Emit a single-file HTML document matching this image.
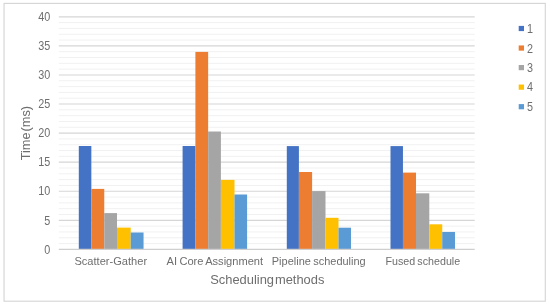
<!DOCTYPE html>
<html><head><meta charset="utf-8"><title>Chart</title>
<style>
html,body{margin:0;padding:0;background:#fff;}
body{width:550px;height:306px;overflow:hidden;}
svg{display:block;}
text{font-family:"Liberation Sans",sans-serif;fill:#6e6e6e;}
</style></head><body>
<svg width="550" height="306" viewBox="0 0 550 306">
<rect x="0" y="0" width="550" height="306" fill="#ffffff"/>
<rect x="4.05" y="3.4" width="541.25" height="297.8" fill="#ffffff" stroke="#D6D6D6" stroke-width="1.15"/>

<line x1="58.8" x2="474.7" y1="243.59" y2="243.59" stroke="#F1F1F1" stroke-width="1"/>
<line x1="58.8" x2="474.7" y1="237.77" y2="237.77" stroke="#F1F1F1" stroke-width="1"/>
<line x1="58.8" x2="474.7" y1="231.96" y2="231.96" stroke="#F1F1F1" stroke-width="1"/>
<line x1="58.8" x2="474.7" y1="226.14" y2="226.14" stroke="#F1F1F1" stroke-width="1"/>
<line x1="58.8" x2="474.7" y1="220.32" y2="220.32" stroke="#D6D6D6" stroke-width="1.15"/>
<line x1="58.8" x2="474.7" y1="214.51" y2="214.51" stroke="#F1F1F1" stroke-width="1"/>
<line x1="58.8" x2="474.7" y1="208.69" y2="208.69" stroke="#F1F1F1" stroke-width="1"/>
<line x1="58.8" x2="474.7" y1="202.88" y2="202.88" stroke="#F1F1F1" stroke-width="1"/>
<line x1="58.8" x2="474.7" y1="197.06" y2="197.06" stroke="#F1F1F1" stroke-width="1"/>
<line x1="58.8" x2="474.7" y1="191.25" y2="191.25" stroke="#D6D6D6" stroke-width="1.15"/>
<line x1="58.8" x2="474.7" y1="185.44" y2="185.44" stroke="#F1F1F1" stroke-width="1"/>
<line x1="58.8" x2="474.7" y1="179.62" y2="179.62" stroke="#F1F1F1" stroke-width="1"/>
<line x1="58.8" x2="474.7" y1="173.81" y2="173.81" stroke="#F1F1F1" stroke-width="1"/>
<line x1="58.8" x2="474.7" y1="167.99" y2="167.99" stroke="#F1F1F1" stroke-width="1"/>
<line x1="58.8" x2="474.7" y1="162.18" y2="162.18" stroke="#D6D6D6" stroke-width="1.15"/>
<line x1="58.8" x2="474.7" y1="156.36" y2="156.36" stroke="#F1F1F1" stroke-width="1"/>
<line x1="58.8" x2="474.7" y1="150.55" y2="150.55" stroke="#F1F1F1" stroke-width="1"/>
<line x1="58.8" x2="474.7" y1="144.73" y2="144.73" stroke="#F1F1F1" stroke-width="1"/>
<line x1="58.8" x2="474.7" y1="138.91" y2="138.91" stroke="#F1F1F1" stroke-width="1"/>
<line x1="58.8" x2="474.7" y1="133.10" y2="133.10" stroke="#D6D6D6" stroke-width="1.15"/>
<line x1="58.8" x2="474.7" y1="127.28" y2="127.28" stroke="#F1F1F1" stroke-width="1"/>
<line x1="58.8" x2="474.7" y1="121.47" y2="121.47" stroke="#F1F1F1" stroke-width="1"/>
<line x1="58.8" x2="474.7" y1="115.66" y2="115.66" stroke="#F1F1F1" stroke-width="1"/>
<line x1="58.8" x2="474.7" y1="109.84" y2="109.84" stroke="#F1F1F1" stroke-width="1"/>
<line x1="58.8" x2="474.7" y1="104.03" y2="104.03" stroke="#D6D6D6" stroke-width="1.15"/>
<line x1="58.8" x2="474.7" y1="98.21" y2="98.21" stroke="#F1F1F1" stroke-width="1"/>
<line x1="58.8" x2="474.7" y1="92.39" y2="92.39" stroke="#F1F1F1" stroke-width="1"/>
<line x1="58.8" x2="474.7" y1="86.58" y2="86.58" stroke="#F1F1F1" stroke-width="1"/>
<line x1="58.8" x2="474.7" y1="80.76" y2="80.76" stroke="#F1F1F1" stroke-width="1"/>
<line x1="58.8" x2="474.7" y1="74.95" y2="74.95" stroke="#D6D6D6" stroke-width="1.15"/>
<line x1="58.8" x2="474.7" y1="69.13" y2="69.13" stroke="#F1F1F1" stroke-width="1"/>
<line x1="58.8" x2="474.7" y1="63.32" y2="63.32" stroke="#F1F1F1" stroke-width="1"/>
<line x1="58.8" x2="474.7" y1="57.50" y2="57.50" stroke="#F1F1F1" stroke-width="1"/>
<line x1="58.8" x2="474.7" y1="51.69" y2="51.69" stroke="#F1F1F1" stroke-width="1"/>
<line x1="58.8" x2="474.7" y1="45.88" y2="45.88" stroke="#D6D6D6" stroke-width="1.15"/>
<line x1="58.8" x2="474.7" y1="40.06" y2="40.06" stroke="#F1F1F1" stroke-width="1"/>
<line x1="58.8" x2="474.7" y1="34.25" y2="34.25" stroke="#F1F1F1" stroke-width="1"/>
<line x1="58.8" x2="474.7" y1="28.43" y2="28.43" stroke="#F1F1F1" stroke-width="1"/>
<line x1="58.8" x2="474.7" y1="22.61" y2="22.61" stroke="#F1F1F1" stroke-width="1"/>
<line x1="58.8" x2="474.7" y1="16.80" y2="16.80" stroke="#D6D6D6" stroke-width="1.15"/>
<rect x="78.80" y="146.00" width="12.55" height="103.40" fill="#4472C4"/>
<rect x="91.35" y="188.90" width="12.90" height="60.50" fill="#ED7D31"/>
<rect x="104.25" y="213.10" width="12.75" height="36.30" fill="#A5A5A5"/>
<rect x="117.00" y="227.60" width="13.70" height="21.80" fill="#FFC000"/>
<rect x="130.70" y="232.50" width="12.85" height="16.90" fill="#5B9BD5"/>
<rect x="182.60" y="146.00" width="12.80" height="103.40" fill="#4472C4"/>
<rect x="195.40" y="51.90" width="12.75" height="197.50" fill="#ED7D31"/>
<rect x="208.15" y="131.50" width="12.75" height="117.90" fill="#A5A5A5"/>
<rect x="220.90" y="179.90" width="13.60" height="69.50" fill="#FFC000"/>
<rect x="234.50" y="194.50" width="12.60" height="54.90" fill="#5B9BD5"/>
<rect x="286.80" y="146.10" width="12.10" height="103.30" fill="#4472C4"/>
<rect x="298.90" y="172.00" width="13.20" height="77.40" fill="#ED7D31"/>
<rect x="312.10" y="191.10" width="13.40" height="58.30" fill="#A5A5A5"/>
<rect x="325.50" y="217.80" width="13.00" height="31.60" fill="#FFC000"/>
<rect x="338.50" y="227.70" width="12.50" height="21.70" fill="#5B9BD5"/>
<rect x="390.50" y="146.10" width="12.45" height="103.30" fill="#4472C4"/>
<rect x="402.95" y="172.60" width="13.05" height="76.80" fill="#ED7D31"/>
<rect x="416.00" y="193.30" width="13.30" height="56.10" fill="#A5A5A5"/>
<rect x="429.30" y="224.30" width="12.95" height="25.10" fill="#FFC000"/>
<rect x="442.25" y="231.95" width="12.75" height="17.45" fill="#5B9BD5"/>
<line x1="58.8" x2="474.7" y1="249.40" y2="249.40" stroke="#CFCFCF" stroke-width="1.1"/>
<text transform="translate(50.3,254) scale(0.9,1)" font-size="12" text-anchor="end">0</text>
<text transform="translate(50.3,225) scale(0.9,1)" font-size="12" text-anchor="end">5</text>
<text transform="translate(50.3,195) scale(0.9,1)" font-size="12" text-anchor="end">10</text>
<text transform="translate(50.3,166) scale(0.9,1)" font-size="12" text-anchor="end">15</text>
<text transform="translate(50.3,137) scale(0.9,1)" font-size="12" text-anchor="end">20</text>
<text transform="translate(50.3,108) scale(0.9,1)" font-size="12" text-anchor="end">25</text>
<text transform="translate(50.3,79) scale(0.9,1)" font-size="12" text-anchor="end">30</text>
<text transform="translate(50.3,50) scale(0.9,1)" font-size="12" text-anchor="end">35</text>
<text transform="translate(50.3,21) scale(0.9,1)" font-size="12" text-anchor="end">40</text>
<text x="74.4" y="265" font-size="11.6" word-spacing="-0.8" textLength="72.7" lengthAdjust="spacingAndGlyphs">Scatter-Gather</text>
<text x="166.6" y="265" font-size="11.6" word-spacing="-0.8" textLength="96.5" lengthAdjust="spacingAndGlyphs">AI Core Assignment</text>
<text x="271.8" y="265" font-size="11.6" word-spacing="-0.8" textLength="93.9" lengthAdjust="spacingAndGlyphs">Pipeline scheduling</text>
<text x="385.4" y="265" font-size="11.6" word-spacing="-0.8" textLength="74.8" lengthAdjust="spacingAndGlyphs">Fused schedule</text>
<text x="210.2" y="284" font-size="12.6" word-spacing="-2.6" textLength="114.2" lengthAdjust="spacingAndGlyphs">Scheduling methods</text>
<text transform="translate(29.9,160.3) rotate(-90)" font-size="12.6" word-spacing="-2.6" textLength="54.4" lengthAdjust="spacingAndGlyphs">Time (ms)</text>
<rect x="518.7" y="25.90" width="5.3" height="5.2" fill="#4472C4"/>
<text transform="translate(526.9,33) scale(0.9,1)" font-size="12">1</text>
<rect x="518.7" y="45.45" width="5.3" height="5.2" fill="#ED7D31"/>
<text transform="translate(526.9,53) scale(0.9,1)" font-size="12">2</text>
<rect x="518.7" y="65.00" width="5.3" height="5.2" fill="#A5A5A5"/>
<text transform="translate(526.9,72) scale(0.9,1)" font-size="12">3</text>
<rect x="518.7" y="84.55" width="5.3" height="5.2" fill="#FFC000"/>
<text transform="translate(526.9,91) scale(0.9,1)" font-size="12">4</text>
<rect x="518.7" y="104.10" width="5.3" height="5.2" fill="#5B9BD5"/>
<text transform="translate(526.9,111) scale(0.9,1)" font-size="12">5</text>
</svg></body></html>
